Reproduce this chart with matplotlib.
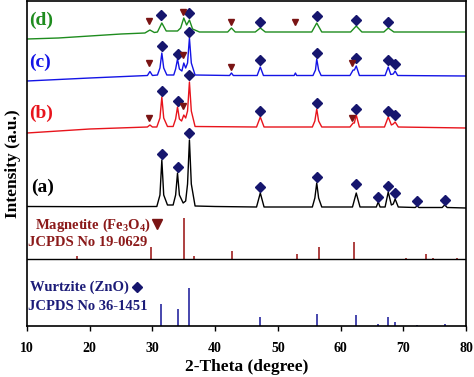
import matplotlib
matplotlib.use("Agg")
import matplotlib.pyplot as plt

plt.rcParams['font.family'] = ['Liberation Serif', 'DejaVu Serif']
plt.rcParams['font.weight'] = 'bold'
plt.rcParams['mathtext.fontset'] = 'custom'
plt.rcParams['mathtext.rm'] = 'Liberation Serif:bold'
plt.rcParams['mathtext.it'] = 'Liberation Serif:bold'
plt.rcParams['mathtext.bf'] = 'Liberation Serif:bold'

# ---------------- data (intensity in arbitrary units) ----------------
# (a) black
a_x = [10, 20, 30.7, 31.2, 31.5, 31.8, 32.4, 33.3, 33.7, 34.0, 34.3, 34.9, 35.3, 35.6, 35.9, 36.2, 36.8,
       40, 46.6, 47.2, 47.8, 55.5, 55.9, 56.2, 56.5, 57.0, 61.9, 62.5, 63.1, 65.7, 66.0, 66.3,
       67.1, 67.6, 68.1, 68.4, 68.7, 69.2, 71.9, 72.2, 72.5, 76.2, 76.6, 77.0, 80]
a_y = [119.5, 119.3, 119.5, 131, 166, 131, 121, 121, 131, 153, 131, 123, 125, 142, 186, 142, 120,
       119.5, 119, 133, 119, 119, 128, 143, 128, 119, 119, 133, 119, 119, 124, 119,
       119, 134, 121, 122, 127, 119, 118.5, 120, 118.5, 118.5, 121, 118.5, 118]
# (b) red
b_x = [10, 20, 29.2, 29.6, 30.0, 30.7, 31.2, 31.5, 31.8, 32.4, 33.3, 33.7, 34.0, 34.3, 34.65, 35.0,
       35.3, 35.6, 35.9, 36.2, 36.8, 46.6, 47.2, 47.8, 55.5, 55.9, 56.2, 56.5, 57.0, 61.5, 62.0,
       62.2, 62.5, 63.0, 67.0, 67.6, 68.1, 68.4, 68.7, 69.2, 80]
b_y = [193, 197, 199, 201, 199, 199, 208, 229, 208, 199.5, 199.5, 207, 219, 207, 205, 211,
       208, 215, 244, 215, 199.5, 199, 209, 199, 199, 205, 217, 205, 199, 199, 203,
       203, 211, 199, 199, 209, 201, 202, 204, 199, 198]
# (c) blue
c_x = [10, 20, 29.2, 29.6, 30.0, 30.8, 31.2, 31.5, 31.8, 32.3, 33.4, 33.7, 34.0, 34.3, 34.7, 35.0,
       35.3, 35.6, 35.9, 36.2, 36.8, 42.3, 42.6, 42.9, 46.7, 47.2, 47.7, 52.6, 52.8, 53.0, 55.6,
       56.0, 56.2, 56.5, 56.9, 61.5, 62.0, 62.2, 62.5, 63.0, 67.1, 67.6, 68.0, 68.4, 68.7, 69.1, 80]
c_y = [245, 248, 250.5, 254.5, 250.5, 251, 258, 273, 258, 251, 251, 257, 267, 257, 255, 263,
       258, 263, 288, 263, 251, 250.5, 253, 250.5, 250.5, 259, 250.5, 250.5, 253, 250.5, 250.5,
       256, 267, 256, 250.5, 250.5, 256, 256, 260, 250.5, 250.5, 259, 251.5, 252, 255, 250.5, 250]
# (d) green
d_x = [10, 15, 20, 25, 28.8, 29.6, 30.3, 30.8, 31.5, 32.2, 34.0, 34.5, 35.0, 35.45, 35.9, 36.4,
       37.5, 42.0, 42.6, 43.2, 46.4, 47.2, 48.0, 55.4, 56.2, 57.0, 61.6, 62.5, 63.4, 66.9, 67.6,
       68.5, 80]
d_y = [287, 288, 290, 292, 293, 296, 293.5, 294, 303, 295, 295, 298, 308, 301, 306, 297,
       294, 294, 298, 294, 294, 298, 294, 294, 303, 294, 294, 300, 294, 294, 298,
       294, 294]

# ZnO (wurtzite) markers on each pattern
zno_a_x = [31.5, 34.0, 35.9, 47.2, 56.2, 62.5, 66.0, 67.6, 68.7, 72.2, 76.6]
zno_a_y = [172, 159, 193, 139, 149, 142, 129, 140, 133, 125, 126]
zno_b_x = [31.5, 34.0, 35.9, 47.2, 56.2, 62.5, 67.6, 68.7]
zno_b_y = [235, 225, 251, 215, 223, 217, 215, 211]
zno_c_x = [31.5, 34.0, 35.9, 47.2, 56.2, 62.5, 67.6, 68.7]
zno_c_y = [280, 272, 294, 266, 273, 268, 266, 262]
zno_d_x = [31.4, 35.9, 47.2, 56.2, 62.5, 67.6]
zno_d_y = [311, 313, 304, 310, 306, 304]
# Fe3O4 (magnetite) markers
fe_b_x = [29.5, 34.9, 61.8]
fe_b_y = [208, 220, 208]
fe_c_x = [29.5, 34.9, 42.5, 61.8]
fe_c_y = [263, 271, 259, 263]
fe_d_x = [29.5, 34.8, 42.5, 52.8]
fe_d_y = [305, 314, 304, 304]

# reference patterns
mag_pos = [18.0, 29.8, 35.0, 36.7, 42.7, 53.1, 56.6, 62.1, 70.5, 73.6, 74.7, 78.6]
mag_int = [3, 12, 41, 3, 8, 5, 12, 17, 1.5, 5, 1.5, 1.5]
wur_pos = [31.4, 34.0, 35.9, 47.2, 56.2, 62.5, 66.0, 67.6, 68.7, 72.2, 76.6]
wur_int = [22, 17, 38, 9.5, 12, 11, 2, 9, 4.5, 1, 2]
mag_base = 67

x_ticks = [10, 20, 30, 40, 50, 60, 70, 80]

# ---------------- styles ----------------
C_RED = '#e8141c'
C_BLUE = '#1414e6'
C_GREEN = '#1e8c1e'
C_DIA = '#16166e'
C_TRI = '#7a1414'
C_MAG = '#a02020'
C_MAGT = '#8b1a1a'
C_WUR = '#2828a0'
C_WURT = '#1c1c78'

fig = plt.figure(figsize=(4.74, 3.77), dpi=100)
ax = fig.add_axes([27/474, 1 - 326/377, 439/474, 325/377])

ax.plot(a_x, a_y, color='black', lw=1.0)
ax.plot(b_x, b_y, color=C_RED, lw=1.0)
ax.plot(c_x, c_y, color=C_BLUE, lw=1.0)
ax.plot(d_x, d_y, color=C_GREEN, lw=1.0)

for xs, ys in [(zno_a_x, zno_a_y), (zno_b_x, zno_b_y), (zno_c_x, zno_c_y), (zno_d_x, zno_d_y)]:
    ax.plot(xs, ys, 'D', color=C_DIA, ms=5, lw=0)
for xs, ys in [(fe_b_x, fe_b_y), (fe_c_x, fe_c_y), (fe_d_x, fe_d_y)]:
    ax.plot(xs, ys, 'v', color=C_TRI, ms=4.5, lw=0)

ax.vlines(mag_pos, mag_base, [mag_base + h for h in mag_int], color=C_MAG, lw=1.2)
ax.vlines(wur_pos, 0, wur_int, color=C_WUR, lw=1.2)
ax.axhline(mag_base, color='black', lw=1.0)

# labels
ax.text(10.3, 306, '(d)', color=C_GREEN, fontsize=14, fontweight='bold', va='center', ha='left')
ax.text(10.3, 264, '(c)', color=C_BLUE, fontsize=14, fontweight='bold', va='center', ha='left')
ax.text(10.3, 213, '(b)', color=C_RED, fontsize=14, fontweight='bold', va='center', ha='left')
ax.text(10.7, 139, '(a)', color='black', fontsize=14, fontweight='bold', va='center', ha='left')

ax.text(11.3, 101, 'Magnetite (Fe$_3$O$_4$)', color=C_MAGT, fontsize=10.5, fontweight='bold',
        va='center', ha='left')
ax.plot([30.7], [102], 'v', color=C_TRI, ms=7.5)
ax.text(10.2, 83, 'JCPDS No 19-0629', color=C_MAGT, fontsize=10.5, fontweight='bold',
        va='center', ha='left')
ax.text(10.5, 39, 'Wurtzite (ZnO)', color=C_WURT, fontsize=10.5, fontweight='bold',
        va='center', ha='left')
ax.plot([27.5], [39], 'D', color=C_DIA, ms=5.5)
ax.text(10.2, 19, 'JCPDS No 36-1451', color=C_WURT, fontsize=10.5, fontweight='bold',
        va='center', ha='left')

ax.set_xlim(10, 80)
ax.set_ylim(0, 325)
ax.set_xticks(x_ticks)
ax.set_xticklabels([str(t) for t in x_ticks], fontsize=10, fontweight='bold')
ax.set_yticks([])
ax.tick_params(axis='x', direction='out', length=3.5, width=1, pad=8)
for s in ax.spines.values():
    s.set_linewidth(1.2)
ax.set_xlabel('2-Theta (degree)', fontsize=12.5, fontweight='bold', labelpad=3)
ax.set_ylabel('Intensity (a.u.)', fontsize=12.5, fontweight='bold', labelpad=4)

fig.savefig('out.png', dpi=100)
